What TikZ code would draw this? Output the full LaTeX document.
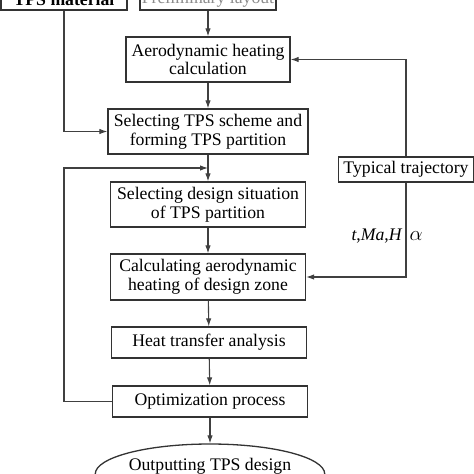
\documentclass[tikz,border=0pt]{standalone}
\usepackage{fontspec}
\setmainfont{Liberation Serif}
\usetikzlibrary{arrows.meta,shapes.geometric}
\tikzset{
	stepbox/.style={draw=black!80,line width=1.3pt,align=center,inner sep=2pt,
		font=\fontsize{17.7}{18.6}\selectfont},
	flow/.style={draw=black!75,line width=1.1pt}
}
\begin{document}
\begin{tikzpicture}[>={Latex[length=8pt,width=5.5pt]},x=1pt,y=-1pt]
	\clip (0,0) rectangle (474,474);
	\node[stepbox,minimum width=126,minimum height=22] (mat) at (64,-1) {\textbf{TPS material}};
	\node[stepbox,minimum width=136,minimum height=22,text=black!45] (lay) at (208,-1) {Preliminary layout};
	\node[stepbox,minimum width=164,minimum height=45] (aero) at (208,59.5) {Aerodynamic heating\\calculation};
	\node[stepbox,minimum width=200,minimum height=45] (sel) at (208,131.5) {Selecting TPS scheme and\\forming TPS partition};
	\node[stepbox,minimum width=195,minimum height=45] (des) at (208,204.5) {Selecting design situation\\of TPS partition};
	\node[stepbox,minimum width=195,minimum height=46] (calc) at (208,277) {Calculating aerodynamic\\heating of design zone};
	\node[stepbox,minimum width=195,minimum height=31] (heat) at (209,342.5) {Heat transfer analysis};
	\node[stepbox,minimum width=195,minimum height=31] (opt) at (210,401.5) {Optimization process};
	\node[stepbox,ellipse,minimum width=212,minimum height=60,inner sep=0pt] (out) at (210,474) {Outputting TPS design\\\mbox{}};
	\node[stepbox,minimum width=135,minimum height=25] (traj) at (406,169.5) {Typical trajectory};
	% main line
	\draw[flow,->] (lay) -- (aero);
	\draw[flow,->] (aero) -- (sel);
	\draw[flow,->] (sel) -- (des);
	\draw[flow,->] (des) -- (calc);
	\draw[flow,->] (calc) -- (heat);
	\draw[flow,->] (heat) -- (opt);
	\draw[flow,->] (opt) -- (out);
	% inputs and feedback
	\draw[flow,->] (mat.south) |- (sel.west);
	\coordinate (fb) at (64,168);
	\draw[flow,->] (opt.west) -| (fb) -- (fb -| des.north);
	\draw[flow,->] (traj.north) |- (aero.east);
	\draw[flow,->] (traj.south) |- (calc.east);
	\path (traj.south) ++(0,53) node[left,font=\fontsize{17.7}{18.6}\selectfont]{\textit{t},\textit{Ma},\textit{H}}
		node[right,font=\fontsize{21}{21}\selectfont]{$\alpha$};
\end{tikzpicture}
\end{document}
